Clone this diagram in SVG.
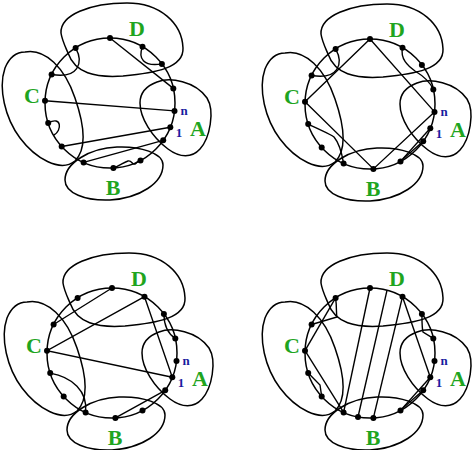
<svg xmlns="http://www.w3.org/2000/svg" xmlns:xlink="http://www.w3.org/1999/xlink" width="474" height="450" viewBox="0 0 474 450">
<style>
.blob{fill:none;stroke:#000;stroke-width:1.5}
.ring{fill:none;stroke:#000;stroke-width:1.5}
.edge{fill:none;stroke:#000;stroke-width:1.4}
.dot{fill:#000}
.lab{font-family:"Liberation Serif","Times New Roman",serif;font-weight:bold;font-size:22px;fill:#1fa51f;text-anchor:middle}
.idx{font-family:"Liberation Serif","Times New Roman",serif;font-weight:bold;font-size:13px;fill:#1a1aa0;text-anchor:middle}
</style>
<defs>
<path id="blobD" d="M -49,-70 C -50,-88 -20,-100 17,-100 C 50,-100 72,-80 73,-55 C 74,-35 45,-30 13,-27 C -15,-25 -35,-30 -42,-50 C -45,-57 -48,-63 -49,-70 Z"/>
<path id="blobC" d="M -85,-51 C -65,-55 -45,-35 -35,-5 C -27,18 -22,45 -35,58 C -50,70 -75,55 -90,35 C -105,15 -112,-15 -105,-35 C -100,-47 -93,-51 -85,-51 Z"/>
<path id="blobA" d="M 47,-21 C 60,-26 85,-22 97,-5 C 105,8 100,35 90,46 C 82,55 70,55 58,46 C 42,34 30,15 30,0 C 30,-10 36,-17 47,-21 Z"/>
<path id="blobB" d="M -45,77 C -45,60 -20,45 7,44 C 30,43 53,50 53,62 C 53,80 30,95 0,97 C -25,98 -45,90 -45,77 Z"/>
<g id="dots15">
<circle class="dot" cx="0" cy="-65" r="3"/>
<circle class="dot" cx="32.5" cy="-56.3" r="3"/>
<circle class="dot" cx="51.9" cy="-39.1" r="3"/>
<circle class="dot" cx="63.3" cy="-14.6" r="3"/>
<circle class="dot" cx="64.5" cy="7.9" r="3"/>
<circle class="dot" cx="60.3" cy="24.3" r="3"/>
<circle class="dot" cx="53.2" cy="37.3" r="3"/>
<circle class="dot" cx="30.5" cy="57.4" r="3"/>
<circle class="dot" cx="3.4" cy="64.9" r="3"/>
<circle class="dot" cx="-26.4" cy="59.4" r="3"/>
<circle class="dot" cx="-48.3" cy="43.5" r="3"/>
<circle class="dot" cx="-61.8" cy="20.1" r="3"/>
<circle class="dot" cx="-65" cy="-2.3" r="3"/>
<circle class="dot" cx="-58.4" cy="-28.5" r="3"/>
<circle class="dot" cx="-34.4" cy="-55.1" r="3"/>
</g>
</defs>

<g id="panel1" transform="translate(110,103)">
  <g id="p1-D"><use xlink:href="#blobD" class="blob"/><text class="lab" x="27" y="-67">D</text></g>
  <g id="p1-C"><use xlink:href="#blobC" class="blob"/><text class="lab" x="-78" y="0">C</text></g>
  <g id="p1-A"><use xlink:href="#blobA" class="blob"/><text class="lab" x="88" y="33">A</text></g>
  <g id="p1-B"><use xlink:href="#blobB" class="blob"/><text class="lab" x="3" y="92">B</text></g>
  <circle class="ring" cx="0" cy="0" r="65"/>
  <g id="p1-edges">
    <path class="edge" d="M 0,-65 L 63.3,-14.6"/>
    <path class="edge" d="M 32.5,-56.3 C 28,-45 33,-36 51.9,-39.1"/>
    <path class="edge" d="M -34.4,-55.1 C -26,-40 -32,-24 -58.4,-28.5"/>
    <path class="edge" d="M -65,-2.3 L 64.5,7.9"/>
    <path class="edge" d="M -61.8,20.1 C -48,12 -48,28 -56,32"/>
    <path class="edge" d="M -48.3,43.5 L 60.3,24.3"/>
    <path class="edge" d="M -26.4,59.4 L 53.2,37.3"/>
    <path class="edge" d="M 3.4,64.9 C 10,63 14,59 18,58 C 22,57 22,62 25,61 C 27,60 28,57 30.5,57.4"/>
  </g>
  <use xlink:href="#dots15"/>
  <text class="idx" x="74" y="12">n</text>
  <text class="idx" x="69" y="34">1</text>
</g>

<g id="panel2" transform="translate(370,104)">
  <g id="p2-D"><use xlink:href="#blobD" class="blob"/><text class="lab" x="27" y="-67">D</text></g>
  <g id="p2-C"><use xlink:href="#blobC" class="blob"/><text class="lab" x="-78" y="0">C</text></g>
  <g id="p2-A"><use xlink:href="#blobA" class="blob"/><text class="lab" x="88" y="33">A</text></g>
  <g id="p2-B"><use xlink:href="#blobB" class="blob"/><text class="lab" x="3" y="92">B</text></g>
  <circle class="ring" cx="0" cy="0" r="65"/>
  <g id="p2-edges">
    <path class="edge" d="M 0,-65 L -65,-2.3 L 3.4,64.9 L 64.5,7.9 Z"/>
    <path class="edge" d="M -34.4,-55.1 C -26,-40 -32,-24 -58.4,-28.5"/>
    <path class="edge" d="M -61.8,20.1 C -50,26 -40,30 -36,33 C -30,40 -28,50 -26.4,59.4"/>
    <path class="edge" d="M 32.5,-56.3 C 30,-45 38,-38 45,-33 C 55,-27 60,-22 63.3,-14.6"/>
    <path class="edge" d="M 60.3,24.3 L 30.5,57.4"/>
    <path class="edge" d="M 53.2,37.3 L 33,55"/>
  </g>
  <use xlink:href="#dots15"/>
  <text class="idx" x="74" y="12">n</text>
  <text class="idx" x="69" y="34">1</text>
</g>

<g id="panel3" transform="translate(112,353)">
  <g id="p3-D"><use xlink:href="#blobD" class="blob"/><text class="lab" x="27" y="-67">D</text></g>
  <g id="p3-C"><use xlink:href="#blobC" class="blob"/><text class="lab" x="-78" y="0">C</text></g>
  <g id="p3-A"><use xlink:href="#blobA" class="blob"/><text class="lab" x="88" y="33">A</text></g>
  <g id="p3-B"><use xlink:href="#blobB" class="blob"/><text class="lab" x="3" y="92">B</text></g>
  <circle class="ring" cx="0" cy="0" r="65"/>
  <g id="p3-edges">
    <path class="edge" d="M 0,-65 L -58.4,-28.5"/>
    <path class="edge" d="M 32.5,-56.3 L -65,-2.3 L 60.3,24.3 Z"/>
    <path class="edge" d="M 51.9,-39.1 C 52,-30 55,-20 63.3,-14.6"/>
    <path class="edge" d="M -61.8,20.1 C -40,24 -24,38 -26.4,59.4"/>
    <path class="edge" d="M 3.4,64.9 L 53.2,37.3"/>
  </g>
  <use xlink:href="#dots15"/>
  <text class="idx" x="74" y="12">n</text>
  <text class="idx" x="69" y="34">1</text>
</g>

<g id="panel4" transform="translate(370,353)">
  <g id="p4-D"><use xlink:href="#blobD" class="blob"/><text class="lab" x="27" y="-67">D</text></g>
  <g id="p4-C"><use xlink:href="#blobC" class="blob"/><text class="lab" x="-78" y="0">C</text></g>
  <g id="p4-A"><use xlink:href="#blobA" class="blob"/><text class="lab" x="88" y="33">A</text></g>
  <g id="p4-B"><use xlink:href="#blobB" class="blob"/><text class="lab" x="3" y="92">B</text></g>
  <circle class="ring" cx="0" cy="0" r="65"/>
  <g id="p4-edges">
    <path class="edge" d="M 0,-65 L -26.4,59.4"/>
    <path class="edge" d="M 17,-62.7 L -12,64"/>
    <path class="edge" d="M 32.5,-56.3 L 3.4,64.9"/>
    <path class="edge" d="M 32.5,-56.3 L 60.3,24.3"/>
    <path class="edge" d="M 51.9,-39.1 C 52,-30 52,-24 53,-21 L 63.3,-14.6"/>
    <path class="edge" d="M 60.3,24.3 L 30.5,57.4"/>
    <path class="edge" d="M 53.2,37.3 L 33,55"/>
    <path class="edge" d="M -65,-2.3 L -26.4,59.4"/>
    <path class="edge" d="M -65,-2.3 L -34.4,-55.1"/>
    <path class="edge" d="M -34.4,-55.1 C -33,-45 -34,-39 -33,-36 L -58.4,-28.5"/>
    <path class="edge" d="M -61.8,20.1 L -50,32 L -48.3,43.5"/>
  </g>
  <use xlink:href="#dots15"/>
  <circle class="dot" cx="-12" cy="64" r="3"/>
  <text class="idx" x="74" y="12">n</text>
  <text class="idx" x="69" y="34">1</text>
</g>
</svg>
